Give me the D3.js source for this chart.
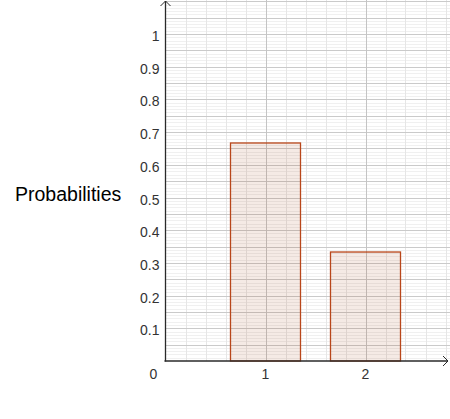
<!DOCTYPE html>
<html>
<head>
<meta charset="utf-8">
<script src="https://cdn.jsdelivr.net/npm/d3@7"></script>
<style>
  body { margin: 0; background: #fff; }
  svg { display: block; font-family: "Liberation Sans", Arial, sans-serif; }
</style>
</head>
<body>
<div id="chart"></div>
<script>
// data
const categories = [1, 2];
const probabilities = [0.6667, 0.3333];
const yTicks = [0.1, 0.2, 0.3, 0.4, 0.5, 0.6, 0.7, 0.8, 0.9, 1];
const xTicks = [1, 2];
const yLabel = "Probabilities";

const W = 450;
const H = 419;
const origin = { x: 165.5, y: 361 };
const barWidth = 0.7;
const barStroke = "#b8461a";

const svg = d3
  .select("#chart")
  .append("svg")
  .attr("width", W)
  .attr("height", H);

const x = d3.scaleLinear().domain([0, 1]).range([origin.x, origin.x + 100]);
const y = d3.scaleLinear().domain([0, 1]).range([origin.y, origin.y - 327]);

const xMax = x.invert(W);
const yMax = y.invert(0);

/* grid: minor first, then major */
const grid = svg.append("g").attr("shape-rendering", "crispEdges");

const yMinor = d3.range(1, Math.floor(yMax * 100) + 1).map((i) => i / 100);
const yMajor = d3.range(1, Math.floor(yMax * 20) + 1).map((i) => i / 20);
const xMinor = d3.range(1, Math.floor(xMax * 5) + 1).map((i) => i / 5);
const xMajor = d3.range(1, Math.floor(xMax) + 1);

grid
  .selectAll(".ymin")
  .data(yMinor)
  .join("line")
  .attr("x1", origin.x)
  .attr("x2", W)
  .attr("y1", (d) => Math.round(y(d)) + 0.5)
  .attr("y2", (d) => Math.round(y(d)) + 0.5)
  .attr("stroke", "#f0f0f0");

grid
  .selectAll(".xmin")
  .data(xMinor)
  .join("line")
  .attr("y1", 0)
  .attr("y2", origin.y)
  .attr("x1", (d) => Math.round(x(d)) + 0.5)
  .attr("x2", (d) => Math.round(x(d)) + 0.5)
  .attr("stroke", "#e6e6e6");

grid
  .selectAll(".ymaj")
  .data(yMajor)
  .join("line")
  .attr("x1", origin.x)
  .attr("x2", W)
  .attr("y1", (d) => Math.round(y(d)) + 0.5)
  .attr("y2", (d) => Math.round(y(d)) + 0.5)
  .attr("stroke", "#cacaca");

grid
  .selectAll(".xmaj")
  .data(xMajor)
  .join("line")
  .attr("y1", 0)
  .attr("y2", origin.y)
  .attr("x1", (d) => Math.round(x(d)) + 0.5)
  .attr("x2", (d) => Math.round(x(d)) + 0.5)
  .attr("stroke", "#c4c4c4");

/* bars */
svg
  .append("g")
  .selectAll("rect")
  .data(categories)
  .join("rect")
  .attr("x", (d) => x(d - barWidth / 2))
  .attr("y", (d, i) => y(probabilities[i]))
  .attr("width", x(barWidth) - x(0))
  .attr("height", (d, i) => y(0) - y(probabilities[i]))
  .attr("fill", "rgba(153,51,0,0.1)")
  .attr("stroke", barStroke)
  .attr("stroke-width", 1.3);

/* axes */
const axes = svg.append("g").attr("stroke", "#2a2a2a").attr("fill", "none");
axes
  .append("line")
  .attr("x1", origin.x)
  .attr("x2", origin.x)
  .attr("y1", origin.y + 0.5)
  .attr("y2", 1)
  .attr("stroke-width", 1.3);
axes
  .append("line")
  .attr("x1", origin.x - 1)
  .attr("x2", W - 2)
  .attr("y1", origin.y)
  .attr("y2", origin.y)
  .attr("stroke-width", 1.3);
// arrow heads
axes
  .append("path")
  .attr("d", `M${origin.x - 5},${6} L${origin.x},${1} L${origin.x + 5},${6}`)
  .attr("stroke-width", 1);
axes
  .append("path")
  .attr("d", `M${W - 7},${origin.y - 5} L${W - 2},${origin.y} L${W - 7},${origin.y + 5}`)
  .attr("stroke-width", 1);

/* tick labels */
const labels = svg
  .append("g")
  .attr("fill", "#333")
  .style("font-size", "14px");

labels
  .selectAll(".yl")
  .data(yTicks)
  .join("text")
  .attr("x", origin.x - 6)
  .attr("y", (d) => y(d) + 7)
  .attr("text-anchor", "end")
  .text((d) => d3.format("")(d));

labels
  .selectAll(".xl")
  .data(xTicks)
  .join("text")
  .attr("x", (d) => x(d))
  .attr("y", origin.y + 18)
  .attr("text-anchor", "middle")
  .text((d) => d);

labels
  .append("text")
  .attr("x", origin.x - 12)
  .attr("y", origin.y + 18)
  .attr("text-anchor", "middle")
  .text("0");

/* axis title */
svg
  .append("text")
  .attr("x", 15)
  .attr("y", 201)
  .attr("fill", "#000")
  .style("font-size", "19.5px")
  .text(yLabel);
</script>
</body>
</html>
